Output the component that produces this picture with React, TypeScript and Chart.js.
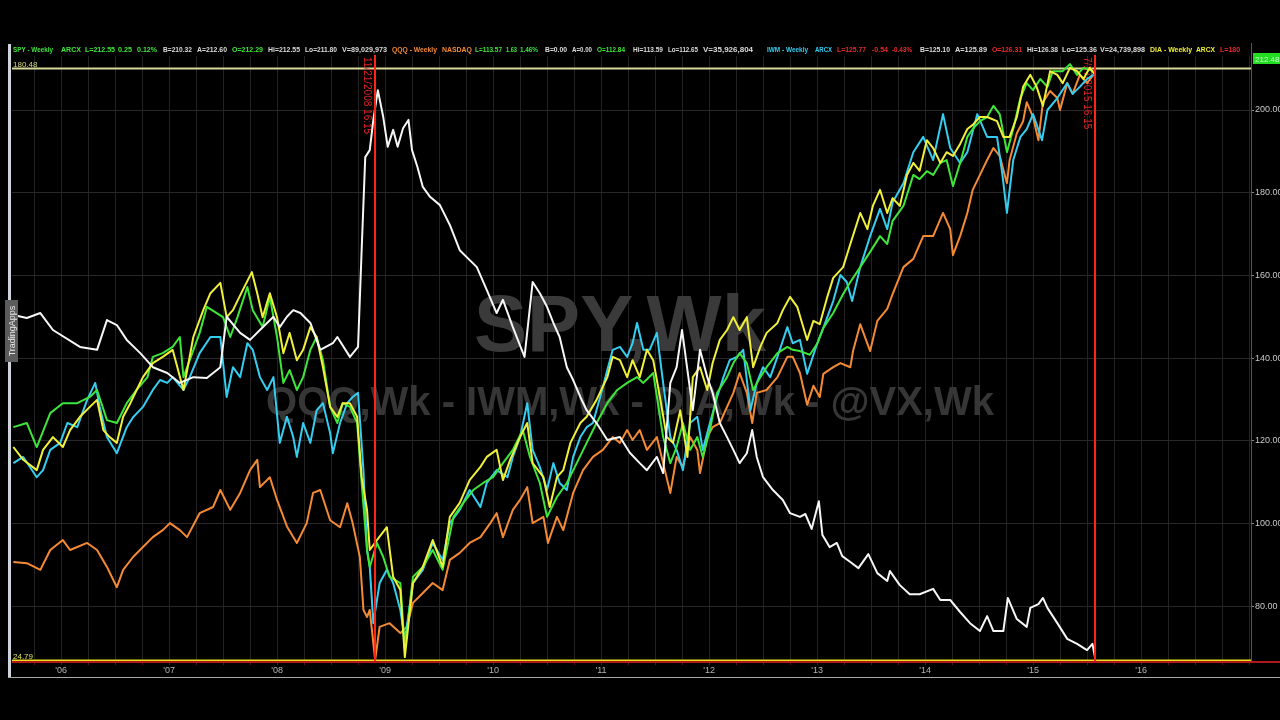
import React, { useEffect, useRef } from "react";
import { Chart, registerables } from "chart.js";

Chart.register(...registerables);

const FONT = '"Liberation Sans", Arial, sans-serif';

// Dates: months since January 2000 (72 = Jan 2006). Values: price units of the pane's right axis.
const spyMonth = [66.7, 68.2, 69.3, 70.8, 72.2, 73.8, 75.2, 76.0, 77.1, 78.2, 79.3, 80.4, 81.6, 82.2, 83.3, 84.4, 85.2, 85.6, 86.3, 87.4, 88.2, 89.3, 90.0, 90.8, 91.6, 92.7, 93.3, 94.4, 95.2, 96.0, 96.7, 97.4, 98.2, 98.9, 99.7, 100.4, 101.1, 101.9, 102.7, 103.3, 104.1, 104.9, 105.4, 106.0, 106.3, 107.1, 107.8, 108.5, 109.7, 110.2, 111.1, 112.2, 113.3, 114.4, 115.6, 116.7, 117.8, 118.9, 120.0, 121.1, 122.2, 123.3, 124.1, 125.2, 126.0, 127.1, 128.2, 129.3, 130.4, 131.5, 132.7, 133.8, 134.9, 136.0, 136.7, 137.8, 138.9, 139.7, 140.4, 141.1, 141.9, 142.7, 143.3, 144.1, 144.9, 146.0, 146.7, 147.4, 148.2, 148.9, 149.7, 150.4, 151.6, 152.7, 153.3, 154.1, 155.2, 156.0, 156.7, 157.8, 158.9, 159.7, 160.8, 161.9, 163.0, 163.8, 164.4, 165.6, 166.7, 167.4, 168.2, 168.9, 169.7, 170.4, 171.1, 171.9, 172.7, 173.3, 174.1, 174.9, 175.6, 176.3, 177.1, 177.8, 178.6, 179.3, 180.0, 180.8, 181.6, 182.2, 183.3, 184.1, 184.9, 185.6, 186.7];
const spyValue = [123.3, 124.3, 118.5, 126.7, 129.1, 129.1, 130.6, 132.3, 125.0, 124.3, 129.1, 132.3, 135.4, 140.3, 141.2, 142.7, 145.1, 135.4, 139.5, 146.1, 152.4, 150.9, 149.9, 145.1, 149.9, 157.2, 151.6, 147.5, 154.8, 145.1, 134.0, 137.1, 132.3, 135.4, 142.0, 145.1, 139.5, 128.2, 124.3, 129.1, 128.2, 124.3, 109.8, 93.6, 89.5, 95.3, 91.9, 87.1, 85.6, 69.4, 87.1, 89.5, 93.6, 88.8, 101.6, 105.0, 108.1, 109.8, 111.2, 114.6, 117.8, 122.6, 116.1, 109.8, 101.6, 106.4, 109.8, 114.6, 119.5, 124.3, 129.1, 132.3, 134.0, 135.4, 134.0, 136.4, 120.9, 114.6, 118.5, 124.3, 117.8, 120.9, 116.1, 122.6, 131.6, 135.4, 138.8, 141.2, 138.8, 132.3, 135.4, 137.8, 141.2, 142.7, 142.0, 141.7, 140.8, 143.4, 147.3, 150.9, 155.5, 158.4, 162.0, 165.7, 169.5, 167.6, 173.2, 176.8, 184.3, 183.3, 185.2, 184.3, 187.2, 187.9, 181.6, 187.2, 193.5, 195.4, 197.3, 198.3, 201.0, 199.0, 189.8, 195.4, 202.9, 206.5, 204.8, 207.5, 205.6, 209.4, 209.4, 211.1, 208.5, 210.2, 209.4];

const qqqMonth = [66.7, 68.2, 69.7, 70.8, 72.2, 73.0, 74.9, 76.0, 77.1, 78.2, 78.9, 80.0, 81.1, 82.2, 83.3, 84.1, 85.2, 86.0, 87.4, 88.9, 89.7, 90.8, 91.9, 93.0, 93.8, 94.1, 95.2, 96.0, 97.1, 98.2, 99.3, 100.0, 100.8, 101.9, 103.0, 103.8, 104.4, 105.2, 105.6, 106.0, 106.3, 106.9, 107.4, 108.5, 109.7, 110.4, 111.1, 112.2, 113.3, 114.4, 115.2, 116.3, 117.4, 118.6, 119.7, 120.4, 121.1, 122.2, 123.0, 123.8, 124.4, 125.6, 126.1, 127.1, 127.8, 128.9, 130.0, 131.1, 132.2, 133.3, 134.1, 134.9, 135.5, 136.3, 137.1, 138.2, 138.9, 139.7, 140.4, 141.1, 141.9, 142.7, 143.0, 143.8, 144.4, 145.2, 146.0, 146.7, 147.4, 148.2, 148.8, 149.3, 150.4, 151.6, 152.7, 153.3, 154.1, 154.9, 155.6, 156.3, 156.7, 157.8, 158.6, 159.7, 160.0, 160.8, 161.9, 162.7, 163.8, 164.4, 165.6, 166.7, 167.8, 168.9, 170.0, 170.8, 171.1, 171.9, 172.7, 173.3, 174.1, 174.9, 175.6, 176.3, 177.1, 177.4, 178.2, 178.9, 179.3, 180.0, 180.6, 181.1, 181.9, 182.7, 183.0, 183.8, 184.4, 185.2, 186.0, 186.7];
const qqqValue = [90.7, 90.4, 88.8, 93.6, 96.0, 93.6, 95.3, 93.6, 89.5, 84.6, 88.8, 91.9, 94.3, 96.7, 98.4, 100.1, 98.4, 96.7, 102.5, 104.0, 108.1, 103.3, 107.4, 112.9, 115.4, 108.8, 111.2, 105.7, 99.3, 95.3, 100.1, 107.4, 108.1, 100.8, 99.1, 104.9, 100.1, 91.9, 79.1, 77.4, 79.1, 67.0, 75.0, 75.9, 73.5, 75.0, 80.8, 83.2, 85.6, 83.9, 91.2, 92.9, 95.3, 96.7, 100.1, 102.5, 96.7, 103.3, 105.7, 108.8, 100.1, 101.6, 95.3, 101.6, 98.4, 107.4, 112.9, 116.1, 117.8, 120.9, 119.5, 122.6, 120.2, 122.6, 117.8, 120.9, 114.6, 107.4, 116.1, 113.7, 120.9, 117.8, 112.2, 120.9, 123.3, 124.3, 128.2, 131.6, 136.4, 131.6, 124.3, 131.6, 132.3, 135.4, 140.3, 140.3, 136.4, 128.7, 133.3, 130.6, 136.2, 137.8, 138.8, 137.8, 141.7, 148.2, 141.7, 149.0, 151.9, 155.5, 162.0, 164.0, 169.5, 169.5, 175.1, 171.2, 164.9, 169.5, 175.1, 180.7, 184.3, 187.9, 190.8, 188.9, 182.3, 187.9, 194.4, 197.3, 201.9, 198.3, 192.7, 201.9, 204.6, 202.9, 200.0, 206.5, 203.9, 208.5, 206.5, 208.5];

const iwmMonth = [66.7, 67.8, 69.3, 70.0, 70.8, 71.9, 72.7, 73.8, 74.9, 75.8, 76.3, 77.1, 78.2, 79.3, 80.0, 81.1, 82.2, 83.0, 83.8, 84.4, 85.6, 86.3, 87.4, 88.6, 89.7, 90.4, 91.1, 91.9, 92.7, 93.3, 94.1, 94.9, 95.6, 96.3, 97.1, 97.8, 98.2, 98.9, 99.7, 100.4, 101.1, 101.9, 102.2, 103.0, 103.8, 104.4, 105.0, 105.6, 106.0, 106.3, 106.7, 107.4, 108.2, 108.9, 109.7, 110.2, 111.1, 112.2, 113.3, 114.4, 115.2, 116.3, 117.4, 118.6, 119.3, 120.4, 121.6, 122.2, 123.0, 123.8, 124.4, 125.2, 126.0, 126.7, 127.4, 128.2, 128.9, 129.7, 130.4, 131.1, 131.9, 132.7, 133.3, 134.1, 134.9, 135.5, 136.0, 136.7, 137.4, 138.2, 138.9, 139.7, 140.4, 141.1, 141.9, 142.7, 143.3, 144.1, 144.9, 145.6, 146.3, 147.1, 147.8, 148.6, 149.3, 150.0, 150.8, 151.6, 152.7, 153.3, 154.1, 154.9, 156.0, 156.7, 157.8, 158.6, 159.3, 159.9, 160.8, 161.9, 163.0, 163.8, 164.4, 165.6, 166.7, 167.8, 168.9, 170.0, 170.8, 171.9, 172.7, 173.8, 174.9, 176.0, 176.6, 177.1, 177.8, 178.6, 179.3, 180.0, 181.0, 181.6, 182.7, 183.8, 184.4, 185.2, 186.0, 186.7];
const iwmValue = [114.6, 116.1, 111.2, 112.9, 117.8, 119.5, 124.3, 123.3, 129.9, 134.0, 128.2, 120.9, 117.0, 123.3, 125.7, 128.2, 132.3, 134.7, 134.0, 135.4, 132.3, 135.4, 141.2, 145.1, 145.1, 130.6, 137.8, 135.4, 143.6, 142.0, 135.4, 132.3, 135.4, 119.5, 125.8, 120.9, 116.1, 124.3, 119.5, 127.4, 129.1, 121.9, 117.0, 124.3, 129.1, 130.6, 131.6, 112.9, 93.6, 89.5, 75.9, 85.6, 88.8, 85.6, 79.1, 71.8, 85.6, 88.8, 95.3, 91.2, 100.1, 103.3, 108.1, 104.0, 109.8, 112.9, 111.2, 116.1, 120.9, 129.1, 117.8, 113.7, 108.1, 114.6, 109.8, 108.1, 116.1, 120.9, 123.3, 124.3, 130.6, 137.1, 142.0, 142.7, 140.3, 143.6, 148.5, 142.0, 142.0, 146.1, 134.0, 120.9, 117.8, 112.9, 124.3, 125.8, 117.8, 124.3, 130.6, 135.4, 139.5, 140.3, 142.0, 127.4, 134.0, 137.8, 135.4, 140.3, 147.5, 143.6, 144.4, 136.2, 143.4, 147.3, 153.8, 160.1, 158.4, 153.8, 162.0, 169.5, 176.1, 171.2, 177.7, 182.3, 189.8, 193.5, 187.9, 199.0, 190.8, 187.2, 189.8, 199.0, 193.5, 193.5, 184.3, 175.1, 187.9, 193.5, 195.4, 199.0, 192.7, 200.0, 202.9, 206.5, 203.9, 205.6, 207.5, 208.5];

const diaMonth = [66.7, 67.8, 69.3, 70.0, 71.1, 72.2, 73.0, 74.1, 75.2, 76.0, 76.7, 77.4, 78.2, 78.9, 79.7, 80.4, 81.1, 82.2, 83.3, 84.4, 85.6, 86.7, 87.8, 88.6, 89.7, 90.4, 91.1, 92.2, 93.2, 93.8, 94.4, 95.2, 96.0, 96.7, 97.4, 98.2, 98.9, 99.7, 100.4, 101.1, 101.9, 102.7, 103.3, 104.1, 104.9, 105.4, 106.0, 106.3, 107.1, 108.2, 108.9, 109.7, 110.2, 111.1, 112.2, 113.3, 114.4, 115.2, 116.3, 117.4, 118.6, 119.3, 120.4, 121.1, 121.9, 123.0, 123.8, 124.4, 125.6, 126.3, 127.1, 127.8, 128.6, 129.7, 130.4, 131.5, 132.7, 133.3, 134.1, 134.9, 135.5, 136.3, 137.1, 137.8, 138.6, 139.3, 140.0, 140.8, 141.6, 142.2, 143.0, 143.8, 144.4, 145.2, 146.0, 146.7, 147.4, 148.2, 148.9, 149.7, 150.4, 151.6, 152.2, 153.0, 153.8, 154.9, 155.6, 156.3, 157.1, 157.8, 158.9, 159.7, 160.8, 161.6, 162.2, 163.0, 163.8, 164.4, 165.2, 166.0, 166.7, 167.4, 168.2, 168.9, 169.7, 170.4, 171.1, 171.9, 172.7, 173.3, 174.1, 174.9, 176.0, 176.7, 177.4, 178.2, 178.9, 179.7, 180.4, 181.1, 181.9, 182.7, 183.3, 184.1, 184.9, 185.6, 186.3, 186.9];
const diaValue = [118.5, 115.4, 112.9, 117.8, 120.9, 118.5, 122.6, 125.8, 128.2, 129.9, 122.6, 120.9, 119.5, 125.8, 129.1, 132.3, 135.4, 138.8, 140.3, 142.0, 132.3, 145.1, 151.6, 155.7, 158.2, 149.9, 151.6, 156.5, 160.8, 155.7, 149.9, 155.7, 149.9, 141.2, 146.1, 139.5, 142.0, 147.5, 145.1, 137.8, 128.2, 125.8, 129.1, 129.1, 125.8, 111.2, 103.3, 93.6, 96.0, 99.1, 87.1, 83.9, 67.7, 85.6, 89.5, 96.0, 89.5, 101.6, 105.0, 110.5, 113.7, 116.1, 117.8, 110.5, 115.4, 120.9, 124.3, 114.6, 111.2, 104.0, 111.2, 112.9, 119.5, 124.3, 125.8, 129.9, 135.4, 140.3, 139.5, 135.4, 139.5, 135.4, 142.0, 139.5, 129.9, 120.9, 119.5, 127.4, 116.1, 135.4, 137.8, 132.3, 138.8, 144.4, 146.8, 149.9, 146.8, 149.9, 137.8, 142.7, 146.1, 148.5, 151.6, 154.8, 152.4, 144.4, 149.0, 148.2, 154.5, 159.4, 162.0, 167.6, 175.1, 171.2, 176.8, 180.7, 175.1, 178.7, 176.8, 184.3, 187.2, 185.3, 192.7, 190.8, 187.2, 189.8, 188.9, 191.8, 195.4, 196.4, 198.3, 198.3, 197.3, 193.5, 193.5, 198.3, 205.6, 208.5, 205.6, 201.0, 209.4, 208.5, 206.5, 210.2, 209.4, 207.5, 210.2, 208.5];

const vxMonth = [66.7, 68.2, 69.7, 71.1, 74.1, 76.0, 77.1, 78.2, 79.3, 80.8, 82.2, 83.8, 85.2, 86.7, 88.2, 89.7, 90.4, 91.9, 93.0, 94.1, 95.6, 96.3, 97.1, 97.8, 98.6, 99.7, 100.8, 102.2, 102.7, 104.1, 105.0, 105.4, 105.8, 106.3, 106.7, 107.2, 107.8, 108.3, 108.9, 109.4, 110.0, 110.6, 111.0, 111.6, 112.2, 113.0, 114.1, 115.2, 116.3, 118.2, 119.3, 120.4, 121.1, 122.2, 123.5, 124.4, 125.2, 126.0, 126.7, 127.4, 128.2, 128.9, 129.7, 130.4, 131.5, 132.7, 134.1, 135.2, 136.3, 137.1, 138.2, 138.9, 139.7, 140.4, 141.0, 141.6, 142.2, 143.0, 143.8, 144.4, 145.2, 146.0, 146.7, 147.4, 148.2, 148.8, 149.3, 150.0, 151.1, 152.2, 153.0, 154.1, 154.7, 155.4, 156.2, 156.6, 157.4, 158.2, 158.8, 159.7, 160.6, 161.7, 162.7, 163.8, 164.1, 165.2, 166.3, 167.4, 168.9, 169.7, 170.8, 171.9, 173.0, 174.1, 174.9, 175.6, 176.7, 177.2, 178.2, 179.3, 179.7, 180.6, 181.1, 181.6, 182.7, 183.8, 184.9, 186.0, 186.6, 186.9];
const vxValue = [150.4, 149.7, 150.9, 146.8, 142.7, 142.0, 149.2, 148.0, 144.4, 141.2, 137.8, 136.4, 134.0, 135.4, 135.2, 137.8, 150.0, 146.1, 144.4, 146.8, 150.0, 147.5, 150.0, 151.6, 150.9, 148.5, 142.0, 143.6, 145.1, 140.3, 142.7, 166.1, 188.6, 190.3, 197.6, 204.8, 198.3, 191.1, 195.2, 191.1, 195.6, 197.6, 190.3, 186.2, 181.4, 179.0, 177.0, 172.2, 166.1, 162.0, 156.5, 150.9, 154.1, 147.5, 140.3, 158.4, 155.7, 152.4, 148.5, 145.1, 137.8, 134.7, 130.6, 127.4, 124.3, 120.2, 120.9, 117.1, 114.6, 112.9, 116.1, 112.2, 134.0, 137.8, 146.8, 137.1, 127.4, 142.0, 135.4, 131.6, 124.3, 120.9, 117.8, 114.6, 117.0, 122.6, 116.1, 111.2, 108.1, 105.7, 102.5, 101.6, 102.3, 98.7, 105.4, 97.2, 94.3, 95.3, 92.1, 90.7, 89.2, 92.6, 88.0, 86.1, 88.5, 85.1, 82.9, 82.9, 84.2, 81.5, 81.5, 78.6, 75.9, 74.0, 77.6, 74.0, 74.0, 82.0, 76.9, 75.0, 79.6, 80.5, 82.0, 79.6, 75.9, 72.1, 70.9, 69.4, 70.9, 67.5];

// Axis content
const yTickValues = [80, 100, 120, 140, 160, 180, 200];
const xYearLabels = ["'06", "'07", "'08", "'09", "'10", "'11", "'12", "'13", "'14", "'15", "'16"];
const xFirstLabelMonth = 72;
const xMin = 66.55;
const xMax = 204.22;
const yMin = 66.75;
const yMax = 213.06;

// Annotations
const cursorMonths = [106.9, 186.9];
const cursorTexts = ["11/21/2008 16:15", "7/17/2015 16:15"];
const priceLineValues = [210.2, 67.1];
const priceLineTexts = ["180.48", "24.79"];
const lastPriceText = "212.48";
const watermarkMain = "SPY,Wk";
const watermarkSub = "QQQ,Wk - IWM,Wk - DIA,Wk - @VX,Wk";

const GREEN = "#3ee63a";
const ORANGE = "#f58a35";
const CYAN = "#35cdf0";
const YELLOW = "#f0f03a";
const RED = "#ee2a2a";
const WHITE_T = "#dcdcdc";

// header texts: [text, colour, left x, right x]
const headerSegments: [string, string, number, number][] = [
  ["SPY - Weekly", GREEN, 13, 53], ["ARCX", GREEN, 61, 81], ["L=212.55", GREEN, 85, 115], ["0.25", GREEN, 118, 132], ["0.12%", GREEN, 137, 157],
  ["B=210.32", WHITE_T, 163, 192], ["A=212.60", WHITE_T, 197, 227], ["O=212.29", GREEN, 232, 263], ["Hi=212.55", WHITE_T, 268, 300], ["Lo=211.80", WHITE_T, 305, 337], ["V=89,029,973", WHITE_T, 342, 387],
  ["QQQ - Weekly", ORANGE, 392, 437], ["NASDAQ", ORANGE, 442, 472], ["L=113.57", GREEN, 475, 502], ["1.63", GREEN, 506, 517], ["1.46%", GREEN, 520, 538],
  ["B=0.00", WHITE_T, 545, 567], ["A=0.00", WHITE_T, 572, 592], ["O=112.84", GREEN, 597, 625], ["Hi=113.59", WHITE_T, 633, 663], ["Lo=112.65", WHITE_T, 668, 698], ["V=35,926,804", WHITE_T, 703, 762],
  ["IWM - Weekly", CYAN, 767, 808], ["ARCX", CYAN, 815, 832], ["L=125.77", RED, 837, 866], ["-0.54", RED, 872, 888], ["-0.43%", RED, 892, 912],
  ["B=125.10", WHITE_T, 920, 950], ["A=125.89", WHITE_T, 955, 987], ["O=126.31", RED, 992, 1022], ["Hi=126.38", WHITE_T, 1027, 1058], ["Lo=125.36", WHITE_T, 1062, 1097], ["V=24,739,898", WHITE_T, 1100, 1145],
  ["DIA - Weekly", YELLOW, 1150, 1192], ["ARCX", YELLOW, 1196, 1215], ["L=180.19", RED, 1220, 1250],
];

const zip = (xs: number[], ys: number[]) => xs.map((x, i) => ({ x, y: ys[i] }));

const overlayPlugin = {
  id: "overlay",
  beforeDraw(chart: any) {
    const { ctx, width, height } = chart;
    ctx.save();
    ctx.fillStyle = "#000";
    ctx.fillRect(0, 0, width, height);
    ctx.restore();
  },
  beforeDatasetsDraw(chart: any) {
    const { ctx, chartArea, scales } = chart;
    const y = scales.y;
    const x = scales.x;
    ctx.save();
    // watermark
    ctx.fillStyle = "#3a3a3a";
    ctx.textAlign = "center";
    ctx.textBaseline = "alphabetic";
    ctx.font = `bold 80px ${FONT}`;
    ctx.fillText(watermarkMain, 620, 351, 292);
    ctx.font = `bold 40px ${FONT}`;
    ctx.fillStyle = "#363636";
    ctx.fillText(watermarkSub, 630, 415, 770);

    // price lines
    priceLineValues.forEach((v, i) => {
      const py = Math.round(y.getPixelForValue(v)) + 0.5;
      ctx.strokeStyle = i === 0 ? "#d8d89a" : "#e6e020";
      ctx.lineWidth = 2;
      ctx.beginPath();
      ctx.moveTo(chartArea.left, py);
      ctx.lineTo(chartArea.right, py);
      ctx.stroke();
      ctx.fillStyle = i === 0 ? "#d8d880" : "#e0e060";
      ctx.font = `8px ${FONT}`;
      ctx.textAlign = "left";
      ctx.fillText(priceLineTexts[i], 13, py - 2);
    });

    // cursor date texts (vertical)
    ctx.fillStyle = "#e02222";
    ctx.font = `10px ${FONT}`;
    cursorMonths.forEach((m, i) => {
      const px = x.getPixelForValue(m);
      ctx.save();
      ctx.translate(px - 11, chartArea.top + 1);
      ctx.rotate(Math.PI / 2);
      ctx.textAlign = "left";
      ctx.fillText(cursorTexts[i], 0, 0, 82);
      ctx.restore();
    });
    ctx.restore();
  },
  afterDatasetsDraw(chart: any) {
    const { ctx, chartArea, scales } = chart;
    ctx.save();
    ctx.strokeStyle = "#ff2418";
    ctx.lineWidth = 2;
    cursorMonths.forEach((m) => {
      const px = Math.round(scales.x.getPixelForValue(m));
      ctx.beginPath();
      ctx.moveTo(px, chartArea.top - 1);
      ctx.lineTo(px, chartArea.bottom);
      ctx.stroke();
    });
    ctx.restore();
  },
  afterDraw(chart: any) {
    const { ctx, chartArea, width } = chart;
    ctx.save();
    // axis frame lines
    ctx.strokeStyle = "#b01818";
    ctx.lineWidth = 2;
    ctx.beginPath();
    ctx.moveTo(chartArea.left, chartArea.bottom + 1);
    ctx.lineTo(width, chartArea.bottom + 1);
    ctx.stroke();
    ctx.strokeStyle = "#d02020";
    ctx.lineWidth = 1;
    ctx.beginPath();
    ctx.moveTo(chartArea.right + 0.5, 43);
    ctx.lineTo(chartArea.right + 0.5, chartArea.bottom + 1);
    ctx.stroke();

    // left bar & bottom line
    ctx.fillStyle = "#cfd3dc";
    ctx.fillRect(8, 44, 3, 634);
    ctx.fillStyle = "#a8a8a8";
    ctx.fillRect(8, 677, width - 8, 1);

    // TradingApps tag
    ctx.fillStyle = "#5c5c5c";
    ctx.fillRect(5, 300, 13, 62);
    ctx.save();
    ctx.translate(14.5, 331);
    ctx.rotate(-Math.PI / 2);
    ctx.fillStyle = "#e8e8e8";
    ctx.font = `9px ${FONT}`;
    ctx.textAlign = "center";
    ctx.textBaseline = "alphabetic";
    ctx.fillText("TradingApps", 0, 0, 58);
    ctx.restore();

    // header
    ctx.save();
    ctx.beginPath();
    ctx.rect(0, 0, 1240, 60);
    ctx.clip();
    ctx.font = `bold 8px ${FONT}`;
    ctx.textAlign = "left";
    ctx.textBaseline = "alphabetic";
    headerSegments.forEach(([t, c, x0, x1]) => {
      ctx.fillStyle = c;
      ctx.fillText(t, x0, 52, x1 - x0);
    });
    ctx.restore();

    // last price badge
    ctx.fillStyle = "#22dd22";
    ctx.fillRect(chartArea.right + 2, 53, width - chartArea.right - 2, 11);
    ctx.fillStyle = "#c4ffc4";
    ctx.font = `8px ${FONT}`;
    ctx.textAlign = "left";
    ctx.fillText(lastPriceText, chartArea.right + 4, 62);
    ctx.restore();
  },
};

export default function App() {
  const ref = useRef<HTMLCanvasElement | null>(null);

  useEffect(() => {
    if (!ref.current) return;
    const quarterTicks: number[] = [];
    for (let m = Math.ceil(xMin / 3) * 3; m <= xMax; m += 3) quarterTicks.push(m);

    const line = (label: string, data: any, color: string, order: number, width = 2) => ({
      label,
      data,
      borderColor: color,
      backgroundColor: color,
      borderWidth: width,
      pointRadius: 0,
      tension: 0,
      fill: false,
      order,
      borderJoinStyle: "round" as const,
    });

    const chart = new Chart(ref.current, {
      type: "line",
      data: {
        datasets: [
          line("SPY", zip(spyMonth, spyValue), GREEN, 2),
          line("QQQ", zip(qqqMonth, qqqValue), ORANGE, 4),
          line("IWM", zip(iwmMonth, iwmValue), CYAN, 3),
          line("DIA", zip(diaMonth, diaValue), YELLOW, 1),
          line("@VX", zip(vxMonth, vxValue), "#f6f6f6", 0),
        ],
      },
      options: {
        animation: false,
        responsive: false,
        devicePixelRatio: 1,
        layout: { padding: { left: 12, top: 56, right: 0, bottom: 0 } },
        plugins: { legend: { display: false }, tooltip: { enabled: false } },
        scales: {
          x: {
            type: "linear",
            position: "bottom",
            min: xMin,
            max: xMax,
            afterFit: (s: any) => {
              s.height = 59;
            },
            afterBuildTicks: (s: any) => {
              s.ticks = quarterTicks.map((v) => ({ value: v }));
            },
            grid: { color: "#232323", lineWidth: 1, tickLength: 4, tickColor: "#5c1414" },
            border: { display: false },
            ticks: {
              color: "#b4b4b4",
              font: { family: FONT, size: 9 },
              padding: 0,
              autoSkip: false,
              maxRotation: 0,
              callback: (v: any) => {
                const n = Number(v);
                if (Math.abs(n % 12) > 1e-6) return "";
                return xYearLabels[(n - xFirstLabelMonth) / 12] ?? "";
              },
            },
          },
          y: {
            type: "linear",
            position: "right",
            min: yMin,
            max: yMax,
            afterFit: (s: any) => {
              s.width = 29;
            },
            afterBuildTicks: (s: any) => {
              s.ticks = yTickValues.map((v) => ({ value: v }));
            },
            grid: { color: "#282828", lineWidth: 1, tickLength: 3, tickColor: "#888" },
            border: { display: false },
            ticks: {
              color: "#c8c8c8",
              font: { family: FONT, size: 9 },
              padding: 1,
              callback: (v: any) => Number(v).toFixed(2),
            },
          },
        },
      },
      plugins: [overlayPlugin],
    });
    return () => chart.destroy();
  }, []);

  return (
    <div style={{ position: "fixed", left: 0, top: 0, width: 1280, height: 720, background: "#000" }}>
      <canvas ref={ref} width={1280} height={720} style={{ display: "block" }} />
    </div>
  );
}
